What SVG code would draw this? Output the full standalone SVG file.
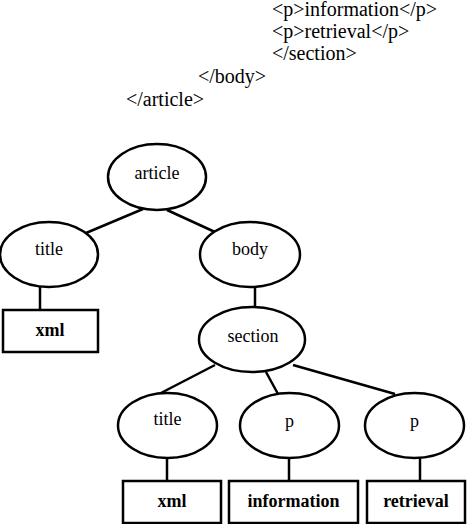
<svg xmlns="http://www.w3.org/2000/svg" width="474" height="524" viewBox="0 0 474 524" font-family="'Liberation Serif','Times New Roman','DejaVu Serif',serif">
<style>
text{font-family:"Liberation Serif","Times New Roman","DejaVu Serif",serif;fill:#000}
.code{font-size:20px}
.lbl{font-size:18px;text-anchor:middle}
.val{font-size:18px;font-weight:bold;text-anchor:middle}
ellipse,rect{fill:#fff;stroke:#000;stroke-width:2.5}
.edge line{stroke:#000;stroke-width:2.5}
</style>
<rect x="0" y="0" width="474" height="524" style="fill:#fff;stroke:none"/>
<g id="code">
<text class="code" x="272" y="16">&lt;p&gt;information&lt;/p&gt;</text>
<text class="code" x="272" y="37.5">&lt;p&gt;retrieval&lt;/p&gt;</text>
<text class="code" x="272" y="60">&lt;/section&gt;</text>
<text class="code" x="198" y="83">&lt;/body&gt;</text>
<text class="code" x="126" y="106">&lt;/article&gt;</text>
</g>
<g class="edge" id="connectors">
<line x1="143" y1="209" x2="86" y2="233"/>
<line x1="167" y1="210" x2="215" y2="232"/>
<line x1="40" y1="287" x2="40" y2="310"/>
<line x1="255" y1="287" x2="255" y2="308"/>
<line x1="215" y1="365" x2="159" y2="394"/>
<line x1="266" y1="372" x2="278" y2="394"/>
<line x1="293" y1="365" x2="395" y2="394"/>
<line x1="167" y1="458" x2="167" y2="481"/>
<line x1="289" y1="458" x2="289" y2="481"/>
<line x1="420" y1="458" x2="420" y2="481"/>
</g>
<g id="n-article"><ellipse cx="157" cy="177" rx="49" ry="33"/><text class="lbl" x="157" y="179">article</text></g>
<g id="n-title1"><ellipse cx="49" cy="254.5" rx="49" ry="32.5"/><text class="lbl" x="49" y="255">title</text></g>
<g id="n-body"><ellipse cx="250" cy="254.5" rx="50" ry="32.5"/><text class="lbl" x="250" y="255">body</text></g>
<g id="n-xml1"><rect x="3" y="310" width="95" height="42"/><text class="val" x="50" y="336">xml</text></g>
<g id="n-section"><ellipse cx="252" cy="339.5" rx="53" ry="32.5"/><text class="lbl" x="253" y="342">section</text></g>
<g id="n-title2"><ellipse cx="167.5" cy="425.5" rx="49.5" ry="32.5"/><text class="lbl" x="167.5" y="425">title</text></g>
<g id="n-p1"><ellipse cx="289.5" cy="425.5" rx="49.5" ry="32.5"/><text class="lbl" x="289.5" y="427">p</text></g>
<g id="n-p2"><ellipse cx="414.5" cy="425.5" rx="49.5" ry="32.5"/><text class="lbl" x="414.5" y="427">p</text></g>
<g id="n-xml2"><rect x="123" y="481" width="98" height="42"/><text class="val" x="172" y="507">xml</text></g>
<g id="n-information"><rect x="229" y="481" width="129" height="42"/><text class="val" x="293.5" y="507">information</text></g>
<g id="n-retrieval"><rect x="367" y="481" width="98" height="42"/><text class="val" x="416" y="507">retrieval</text></g>
</svg>
